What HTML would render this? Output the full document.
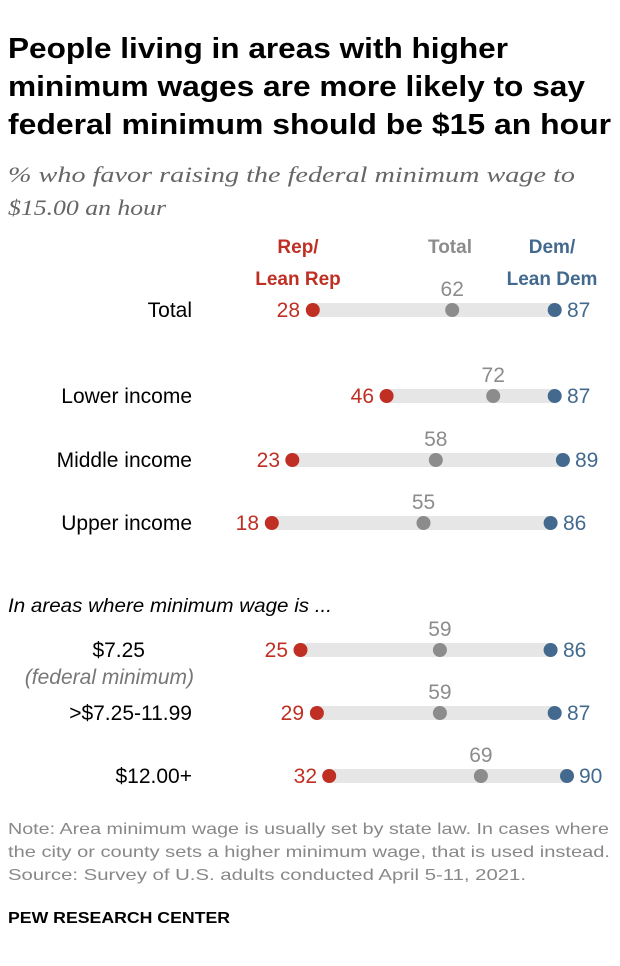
<!DOCTYPE html>
<html><head><meta charset="utf-8"><style>
body{margin:0;background:#fff;width:620px;height:966px;overflow:hidden}
svg{display:block}
</style></head><body>
<svg width="620" height="966" xmlns="http://www.w3.org/2000/svg" font-family="Liberation Sans, sans-serif">
<g font-weight="bold" font-size="29" fill="#000">
<text x="8" y="58" textLength="500" lengthAdjust="spacingAndGlyphs">People living in areas with higher</text>
<text x="8" y="96" textLength="577" lengthAdjust="spacingAndGlyphs">minimum wages are more likely to say</text>
<text x="8" y="134" textLength="603" lengthAdjust="spacingAndGlyphs">federal minimum should be $15 an hour</text>
</g>
<g font-family="Liberation Serif, serif" font-style="italic" font-size="22" fill="#666">
<text x="8" y="182" textLength="567" lengthAdjust="spacingAndGlyphs">% who favor raising the federal minimum wage to</text>
<text x="8" y="215" textLength="158" lengthAdjust="spacingAndGlyphs">$15.00 an hour</text>
</g>
<g font-weight="bold" font-size="19" text-anchor="middle">
<text x="298" y="253" fill="#bf2f24">Rep/</text>
<text x="298" y="285" fill="#bf2f24">Lean Rep</text>
<text x="450" y="253" fill="#8c8c8c">Total</text>
<text x="552" y="253" fill="#436a8e">Dem/</text>
<text x="552" y="285" fill="#436a8e">Lean Dem</text>
</g>
<text x="8" y="612" font-style="italic" font-size="19" fill="#000" textLength="324" lengthAdjust="spacingAndGlyphs">In areas where minimum wage is ...</text>
<g font-size="21">
<text x="192" y="317" text-anchor="end">Total</text>
<text x="192" y="403" text-anchor="end">Lower income</text>
<text x="192" y="467" text-anchor="end">Middle income</text>
<text x="192" y="530" text-anchor="end">Upper income</text>
<text x="145" y="657" text-anchor="end">$7.25</text>
<text x="194" y="684" text-anchor="end" font-style="italic" fill="#777">(federal minimum)</text>
<text x="192" y="720" text-anchor="end">&gt;$7.25-11.99</text>
<text x="192" y="783" text-anchor="end">$12.00+</text>
</g>
<g fill="#e6e6e6">
<rect x="312.8" y="303" width="241.9" height="14"/>
<rect x="386.6" y="389" width="168.1" height="14"/>
<rect x="292.3" y="453" width="270.6" height="14"/>
<rect x="271.8" y="516" width="278.8" height="14"/>
<rect x="300.5" y="643" width="250.1" height="14"/>
<rect x="316.9" y="706" width="237.8" height="14"/>
<rect x="329.2" y="769" width="237.8" height="14"/>
</g>
<g fill="#bf2f24">
<circle cx="312.8" cy="310" r="7"/><circle cx="386.6" cy="396" r="7"/><circle cx="292.3" cy="460" r="7"/><circle cx="271.8" cy="523" r="7"/><circle cx="300.5" cy="650" r="7"/><circle cx="316.9" cy="713" r="7"/><circle cx="329.2" cy="776" r="7"/>
</g>
<g fill="#8c8c8c">
<circle cx="452.2" cy="310" r="7"/><circle cx="493.2" cy="396" r="7"/><circle cx="435.8" cy="460" r="7"/><circle cx="423.5" cy="523" r="7"/><circle cx="439.9" cy="650" r="7"/><circle cx="439.9" cy="713" r="7"/><circle cx="480.9" cy="776" r="7"/>
</g>
<g fill="#436a8e">
<circle cx="554.7" cy="310" r="7"/><circle cx="554.7" cy="396" r="7"/><circle cx="562.9" cy="460" r="7"/><circle cx="550.6" cy="523" r="7"/><circle cx="550.6" cy="650" r="7"/><circle cx="554.7" cy="713" r="7"/><circle cx="567" cy="776" r="7"/>
</g>
<g font-size="21" fill="#bf2f24" text-anchor="end">
<text x="300" y="317">28</text><text x="374" y="403">46</text><text x="280" y="467">23</text><text x="259" y="530">18</text><text x="288" y="657">25</text><text x="304" y="720">29</text><text x="317" y="783">32</text>
</g>
<g font-size="21" fill="#8c8c8c" text-anchor="middle">
<text x="452.2" y="296">62</text><text x="493.2" y="382">72</text><text x="435.8" y="446">58</text><text x="423.5" y="509">55</text><text x="439.9" y="636">59</text><text x="439.9" y="699">59</text><text x="480.9" y="762">69</text>
</g>
<g font-size="21" fill="#436a8e">
<text x="567" y="317">87</text><text x="567" y="403">87</text><text x="575" y="467">89</text><text x="563" y="530">86</text><text x="563" y="657">86</text><text x="567" y="720">87</text><text x="579" y="783">90</text>
</g>
<g font-size="16" fill="#888">
<text x="8" y="834" textLength="601" lengthAdjust="spacingAndGlyphs">Note: Area minimum wage is usually set by state law. In cases where</text>
<text x="8" y="857" textLength="602" lengthAdjust="spacingAndGlyphs">the city or county sets a higher minimum wage, that is used instead.</text>
<text x="8" y="880" textLength="518" lengthAdjust="spacingAndGlyphs">Source: Survey of U.S. adults conducted April 5-11, 2021.</text>
</g>
<text x="8" y="923" font-size="16" font-weight="bold" fill="#000" textLength="222" lengthAdjust="spacingAndGlyphs">PEW RESEARCH CENTER</text>
</svg>
</body></html>
